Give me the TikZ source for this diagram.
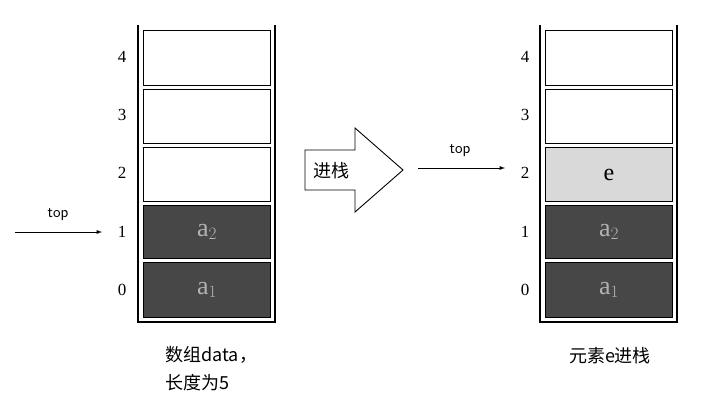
\documentclass[tikz,border=0pt]{standalone}
\usepackage{fontspec}
\setmainfont{Liberation Serif}
\newfontfamily\cjk{Noto Sans CJK SC}
\begin{document}
\begin{tikzpicture}[x=1pt,y=-1pt,
  cell/.style={draw=black,line width=1pt,minimum width=127pt,anchor=north west,inner sep=0},
  dark/.style={cell,fill=black!72,text=black!30,font=\fontsize{26}{28}\selectfont},
  lbl/.style={font=\fontsize{17}{20}\selectfont},
  tx/.style={font=\cjk\fontsize{18}{21}\selectfont},
  wall/.style={line width=1.6pt},
  arr/.style={-latex,line width=0.9pt}]
\useasboundingbox (0,0) rectangle (714,414);
% left stack
\draw[wall] (138,25) -- (138,322) -- (275,322) -- (275,25);
\node[cell,minimum height=55pt] (l4) at (143,30) {};
\node[cell,minimum height=54pt] (l3) at (143,89) {};
\node[cell,minimum height=54pt] (l2) at (143,147) {};
\node[dark,minimum height=53pt] (l1) at (143,205) {a$_2$};
\node[dark,minimum height=55pt] (l0) at (143,262) {a$_1$};
\foreach \n/\y in {4/57,3/115,2/173,1/232,0/290} \node[lbl] (ln\n) at (122,\y) {\n};
% right stack
\draw[wall] (540,25) -- (540,322) -- (677,322) -- (677,25);
\node[cell,minimum height=55pt] (r4) at (545,30) {};
\node[cell,minimum height=54pt] (r3) at (545,89) {};
\node[cell,minimum height=54pt,fill=black!15,font=\fontsize{24}{26}\selectfont] (r2) at (545,147) {e};
\node[dark,minimum height=53pt] (r1) at (545,205) {a$_2$};
\node[dark,minimum height=55pt] (r0) at (545,262) {a$_1$};
\foreach \n/\y in {4/57,3/115,2/173,1/232,0/290} \node[lbl] (rn\n) at (525,\y) {\n};
% big arrow
\draw[line width=0.9pt,fill=white] (305,150) -- (355,150) -- (355,128) -- (403,170) -- (355,212) -- (355,190) -- (305,190) -- cycle;
\node[tx] (push) at (331,171) {进栈};
% top pointers
\coordinate (ls) at (15,232);
\coordinate (le) at (102,232);
\draw[arr] (ls) -- (le);
\node[lbl,font=\sffamily\fontsize{16}{18}\selectfont] (ltop) at (58,215) {top};
\coordinate (rs) at (418,168);
\coordinate (re) at (505,168);
\draw[arr] (rs) -- (re);
\node[lbl,font=\sffamily\fontsize{16}{18}\selectfont] (rtop) at (460,151) {top};
% captions
\node[tx,anchor=west] (c1) at (162,355) {数组data，};
\node[tx,anchor=west] (c2) at (162,383) {长度为5};
\node[tx] (c3) at (610,356) {元素e进栈};
\end{tikzpicture}
\end{document}
